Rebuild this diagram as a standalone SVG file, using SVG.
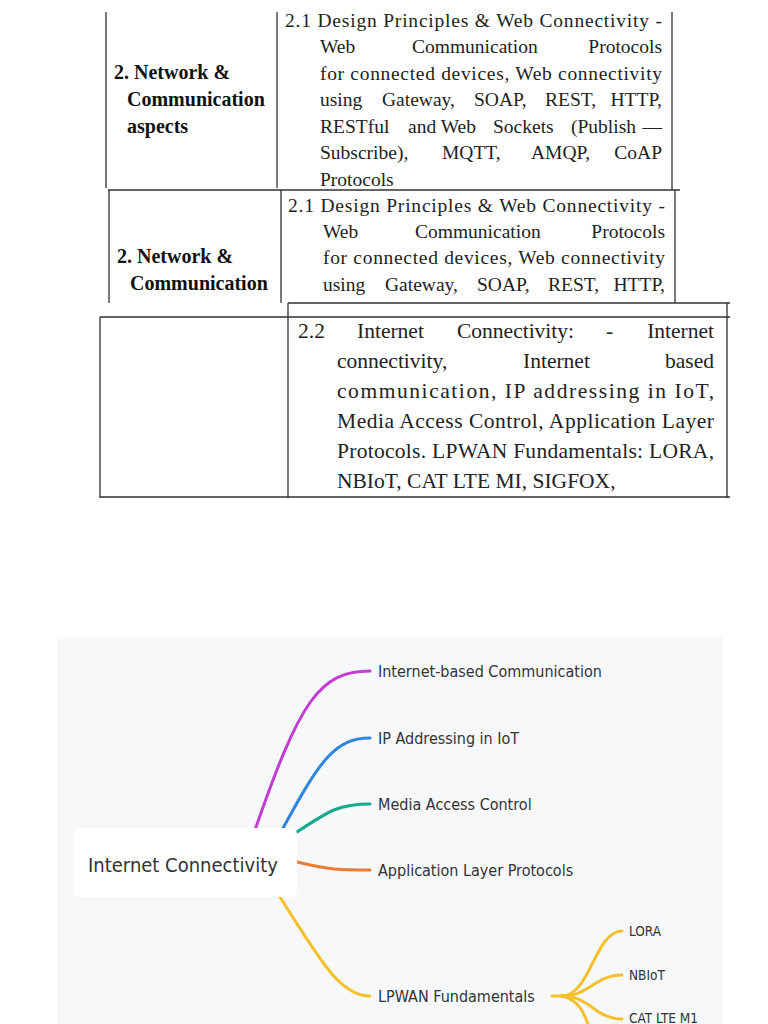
<svg xmlns="http://www.w3.org/2000/svg" width="768" height="1024" viewBox="0 0 768 1024">
<style>
.s{font-family:"Liberation Serif",serif;font-size:19.5px;fill:#222}
.b{font-family:"Liberation Serif",serif;font-size:20px;font-weight:bold;fill:#111}
.l{font-family:"Liberation Serif",serif;font-size:21.5px;fill:#222}
.e{text-anchor:end}
.ln{stroke:#333;stroke-width:1.3;fill:none}
.m{font-family:"DejaVu Sans Condensed","DejaVu Sans",sans-serif;font-size:16px;fill:#333}
.ms{font-family:"DejaVu Sans Condensed","DejaVu Sans",sans-serif;font-size:13.5px;fill:#333}
.c{fill:none;stroke-width:3;stroke-linecap:round}
</style>
<defs><clipPath id="cp"><rect x="0" y="190" width="768" height="112"/></clipPath></defs>
<rect width="768" height="1024" fill="#fff"/>
<g id="table">
<path class="ln" d="M106 12V188M277 12V188M672 12V190M108 190H680M109 190V303M281 190V303M675 190V303M288 303H730M100 317H730M288 303V498M100 317V498M727 303V498M100 497H730"/>
<text class="b" x="114" y="79">2. Network &amp;</text>
<text class="b" x="127" y="106">Communication</text>
<text class="b" x="127" y="133">aspects</text>
<text class="s" x="285" y="27" textLength="377" lengthAdjust="spacing">2.1 Design Principles &amp; Web Connectivity -</text>
<text class="s" y="53"><tspan x="320">Web</tspan><tspan x="412">Communication</tspan></text><text class="s e" x="662" y="53">Protocols</text>
<text class="s" x="320" y="80" textLength="342" lengthAdjust="spacing">for connected devices, Web connectivity</text>
<text class="s" y="106"><tspan x="320">using</tspan><tspan x="382">Gateway,</tspan><tspan x="474">SOAP,</tspan><tspan x="545">REST,</tspan></text><text class="s e" x="662" y="106">HTTP,</text>
<text class="s" y="133"><tspan x="320">RESTful</tspan><tspan x="408">and Web</tspan><tspan x="493">Sockets</tspan><tspan x="571">(Publish</tspan></text><text class="s e" x="662" y="133">—</text>
<text class="s" y="159"><tspan x="320">Subscribe),</tspan><tspan x="442">MQTT,</tspan><tspan x="531">AMQP,</tspan></text><text class="s e" x="662" y="159">CoAP</text>
<text class="s" x="320" y="186">Protocols</text>
<text class="b" x="117" y="263">2. Network &amp;</text>
<text class="b" x="130" y="290">Communication</text>
<text class="s" x="288" y="212" textLength="377" lengthAdjust="spacing">2.1 Design Principles &amp; Web Connectivity -</text>
<text class="s" y="238"><tspan x="323">Web</tspan><tspan x="415">Communication</tspan></text><text class="s e" x="665" y="238">Protocols</text>
<text class="s" x="323" y="264" textLength="342" lengthAdjust="spacing">for connected devices, Web connectivity</text>
<text class="s" y="291"><tspan x="323">using</tspan><tspan x="385">Gateway,</tspan><tspan x="477">SOAP,</tspan><tspan x="548">REST,</tspan></text><text class="s e" x="665" y="291">HTTP,</text>
<g clip-path="url(#cp)"><text class="s" y="317"><tspan x="323">RESTful</tspan><tspan x="411">and Web</tspan><tspan x="496">Sockets</tspan><tspan x="574">(Publish</tspan></text><text class="b" x="130" y="317">aspects</text></g>
<text class="l" y="338"><tspan x="298">2.2</tspan><tspan x="357">Internet</tspan><tspan x="457">Connectivity:</tspan><tspan x="606">-</tspan></text><text class="l e" x="714" y="338">Internet</text>
<text class="l" y="368"><tspan x="337">connectivity,</tspan><tspan x="523">Internet</tspan></text><text class="l e" x="714" y="368">based</text>
<text class="l" x="337" y="398" textLength="377" lengthAdjust="spacing">communication, IP addressing in IoT,</text>
<text class="l" x="337" y="428" textLength="377" lengthAdjust="spacing">Media Access Control, Application Layer</text>
<text class="l" x="337" y="458" textLength="377" lengthAdjust="spacing">Protocols. LPWAN Fundamentals: LORA,</text>
<text class="l" x="337" y="488">NBIoT, CAT LTE MI, SIGFOX,</text>
</g>
<rect x="57" y="637" width="666" height="400" fill="#f7f8fa"/>
<g id="connectors">
<path class="c" stroke="#c23dd1" d="M255 830C300 700 320 671 370 671"/>
<path class="c" stroke="#2f86de" d="M282 830C320 760 335 738 370 738"/>
<path class="c" stroke="#17a88e" d="M297 832C330 810 340 804 370 804"/>
<path class="c" stroke="#ea7d35" d="M297 862C330 870 340 870 370 870"/>
<path class="c" stroke="#f5c02a" d="M280 897C320 960 340 996 370 996"/>
<path class="c" stroke="#f5c02a" d="M552 996H562C590 996 595 931 622 931"/>
<path class="c" stroke="#f5c02a" d="M562 996C590 996 595 975 622 975"/>
<path class="c" stroke="#f5c02a" d="M562 996C590 996 595 1019 622 1019"/>
<path class="c" stroke="#f5c02a" d="M562 996C580 1000 585 1015 590 1030"/>
</g>
<g id="root"><rect x="73" y="828" width="224" height="69" rx="6" fill="#fff"/><text x="88" y="872" font-family="DejaVu Sans Condensed,DejaVu Sans,sans-serif" font-size="20" fill="#333">Internet Connectivity</text></g>
<g id="n1"><text class="m" x="378" y="677">Internet-based Communication</text></g>
<g id="n2"><text class="m" x="378" y="744">IP Addressing in IoT</text></g>
<g id="n3"><text class="m" x="378" y="810">Media Access Control</text></g>
<g id="n4"><text class="m" x="378" y="876">Application Layer Protocols</text></g>
<g id="n5"><text class="m" x="378" y="1002">LPWAN Fundamentals</text></g>
<g id="n6"><text class="ms" x="629" y="936">LORA</text></g>
<g id="n7"><text class="ms" x="629" y="980">NBIoT</text></g>
<g id="n8"><text class="ms" x="629" y="1023">CAT LTE M1</text></g>
</svg>
